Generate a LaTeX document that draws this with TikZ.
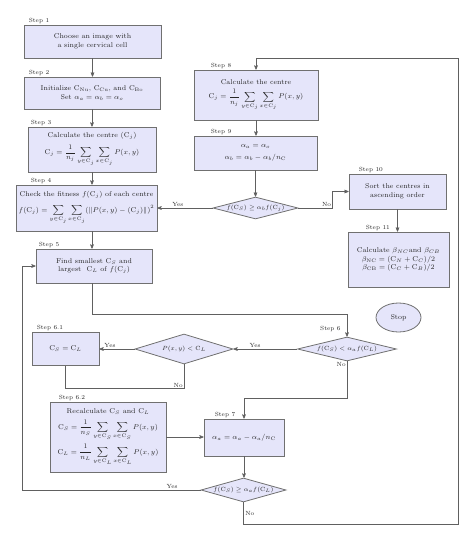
\documentclass[tikz,border=0pt]{standalone}
\usepackage{amssymb}
\usepackage{tikz}
\usetikzlibrary{arrows,shapes.geometric}
\definecolor{boxfill}{RGB}{229,229,250}
\definecolor{boxline}{RGB}{112,112,112}
\definecolor{flowline}{RGB}{96,96,96}
\newcommand{\Cc}[1]{\mathrm{C}_{#1}}

\begin{document}
\begin{tikzpicture}[->,>=stealth',x=1pt,y=-1pt,font=\fontsize{7}{8.5}\selectfont]
    \tikzstyle{proc}=[rectangle,draw=boxline,fill=boxfill,line width=0.8pt,align=center,inner sep=2pt,text=black!85]
    \tikzstyle{cond}=[diamond,draw=boxline,fill=boxfill,line width=0.8pt,align=center,inner sep=0pt,aspect=4,text=black!85,font=\fontsize{6.5}{8}\selectfont]
    \tikzstyle{term}=[ellipse,draw=boxline,fill=boxfill,line width=0.8pt,inner sep=0pt,text=black!85]
    \tikzstyle{steplab}=[anchor=south west,inner sep=1pt,font=\fontsize{6}{7}\selectfont,text=black!85]
    \tikzstyle{ans}=[inner sep=1.5pt,font=\fontsize{6}{7}\selectfont,text=black!85]
    \tikzstyle{conn}=[draw=flowline,line width=0.6pt]
    \useasboundingbox (0,0) rectangle (474,541);
    % left column
    \node[proc,minimum width=137pt,minimum height=33pt] (s1) at (92.5,41.5) {Choose an image with\\ a single cervical cell};
    \node[proc,minimum width=136pt,minimum height=32pt] (s2) at (92,93) {Initialize $\Cc{\mathrm{Nu}}$, $\Cc{\mathrm{Cu}}$, and $\Cc{\mathrm{Bo}}$\\ Set $\alpha_a=\alpha_b=\alpha_o$};
    \node[proc,minimum width=128pt,minimum height=45pt] (s3) at (92,149.5) {Calculate the centre ($\Cc{j}$)\\[4pt] $\displaystyle \Cc{j}=\frac{1}{n_j}\sum_{y\in\Cc{j}}\sum_{x\in\Cc{j}}P(x,y)$};
    \node[proc,minimum width=141pt,minimum height=46pt] (s4) at (86.5,208) {Check the fitness $f(\Cc{j})$ of each centre\\[5pt] $\displaystyle f(\Cc{j})=\sum_{y\in\Cc{j}}\sum_{x\in\Cc{j}}(\|P(x,y)-(\Cc{j})\|)^2$};
    \node[proc,minimum width=116pt,minimum height=34pt] (s5) at (94,266) {Find smallest $\Cc{S}$ and\\ largest\ \ $\Cc{L}$ of $f(\Cc{j})$};
    % middle column
    \node[proc,minimum width=124pt,minimum height=50pt] (s8) at (256,95) {Calculate the centre\\[4pt] $\displaystyle \Cc{j}=\frac{1}{n_j}\sum_{y\in\Cc{j}}\sum_{x\in\Cc{j}}P(x,y)$};
    \node[proc,minimum width=123pt,minimum height=34pt] (s9) at (255.5,153) {$\alpha_a=\alpha_o$\\[3pt] $\alpha_b=\alpha_b-\alpha_b/n_{\mathrm{C}}$};
    \node[cond,minimum width=85pt,minimum height=22pt] (d9) at (255.5,208) {$f(\Cc{S})\geq\alpha_b f(\Cc{j})$};
    % right column
    \node[proc,minimum width=97pt,minimum height=35pt] (s10) at (397.5,191.5) {Sort the centres in\\ ascending order};
    \node[proc,minimum width=101pt,minimum height=55pt] (s11) at (398.5,259.5) {Calculate $\beta_{NC}$and $\beta_{CB}$\\ $\beta_{\mathrm{NC}}=(\Cc{N}+\Cc{C})/2$\\ $\beta_{\mathrm{CB}}=(\Cc{C}+\Cc{B})/2$};
    \node[term,minimum width=45pt,minimum height=29pt] (stop) at (398.5,317.5) {Stop};
    % lower part
    \node[cond,minimum width=99pt,minimum height=24pt] (d6) at (347,349) {$f(\Cc{S})<\alpha_a f(\Cc{L})$};
    \node[cond,minimum width=98pt,minimum height=30pt,aspect=3.3] (dp) at (184,349) {$P(x,y)<\Cc{L}$};
    \node[proc,minimum width=67pt,minimum height=33pt] (s61) at (65.5,349) {$\Cc{S}=\Cc{L}$};
    \node[proc,minimum width=116pt,minimum height=70pt] (s62) at (108,437) {Recalculate $\Cc{S}$ and $\Cc{L}$\\[4pt] $\displaystyle \Cc{S}=\frac{1}{n_S}\sum_{y\in\Cc{S}}\sum_{x\in\Cc{S}}P(x,y)$\\[3pt] $\displaystyle \Cc{L}=\frac{1}{n_L}\sum_{y\in\Cc{L}}\sum_{x\in\Cc{L}}P(x,y)$};
    \node[proc,minimum width=80pt,minimum height=37pt] (s7) at (244,437.5) {$\alpha_a=\alpha_a-\alpha_a/n_{\mathrm{C}}$};
    \node[cond,minimum width=85pt,minimum height=24pt] (d7) at (243.5,490) {$f(\Cc{S})\geq\alpha_a f(\Cc{L})$};
    \coordinate (rb) at (458,524);
    \coordinate (rt) at (458,58);
    % step labels
    \node[steplab] (l1) at ([xshift=4pt]s1.north west) {Step 1};
    \node[steplab] (l2) at ([xshift=4pt]s2.north west) {Step 2};
    \node[steplab] (l3) at ([xshift=2pt]s3.north west) {Step 3};
    \node[steplab] (l4) at ([xshift=14pt]s4.north west) {Step 4};
    \node[steplab] (l5) at ([xshift=2pt]s5.north west) {Step 5};
    \node[steplab] (l8) at ([xshift=16pt]s8.north west) {Step 8};
    \node[steplab] (l9) at ([xshift=16pt]s9.north west) {Step 9};
    \node[steplab] (l10) at ([xshift=9pt]s10.north west) {Step 10};
    \node[steplab] (l11) at ([xshift=17pt]s11.north west) {Step 11};
    \node[steplab] (l6) at ([xshift=-28pt,yshift=4pt]d6.north) {Step 6};
    \node[steplab] (l61) at ([xshift=4pt]s61.north west) {Step 6.1};
    \node[steplab] (l62) at ([xshift=8pt]s62.north west) {Step 6.2};
    \node[steplab] (l7) at ([xshift=10pt]s7.north west) {Step 7};
    % connectors
    \draw[conn] (s1.south) -- (s1.south |- s2.north);
    \draw[conn] (s2.south) -- (s2.south |- s3.north);
    \draw[conn] (s3.south) -- (s3.south |- s4.north);
    \draw[conn] (s4.south -| s3.south) -- (s3.south |- s5.north);
    \draw[conn] (s5.south -| s3.south) -- ++(0,31) -| (d6.north);
    \draw[conn] (s8.south) -- (s8.south |- s9.north);
    \draw[conn] (s9.south) -- (d9.north);
    \draw[conn] (d9.west) -- node[ans,above,pos=0.63] (y9) {Yes} (s4.east);
    \draw[conn] (d9.east) -- ++(34,0) node[ans,above left,inner sep=1pt] (n9) {No} |- (s10.west);
    \draw[conn] (s10.south) -- (s10.south |- s11.north);
    \draw[conn] (d6.west) -- node[ans,above,pos=0.66] (y6) {Yes} (dp.east);
    \draw[conn] (dp.west) -- node[ans,above,pos=0.7] (yp) {Yes} (s61.east);
    \draw[conn,-] (dp.south) -- ++(0,24) node[ans,above left,inner sep=1pt] (np) {No} -| (s61.south);
    \draw[conn] (d6.south) node[ans,below left,inner sep=1pt] (n6) {No} -- ++(0,37) -| (s7.north);
    \draw[conn] (s62.east) -- (s62.east -| s7.west);
    \draw[conn] (s7.south) -- (s7.south |- d7.north);
    \draw[conn] (d7.west) -- node[ans,above,pos=0.16] (y7) {Yes} ++(-178,0) |- (s5.west);
    \draw[conn] (d7.south) -- node[ans,right] (n7) {No} (d7.south |- rb) -- (rb) -- (rt) -| (s8.north);
\end{tikzpicture}
\end{document}
